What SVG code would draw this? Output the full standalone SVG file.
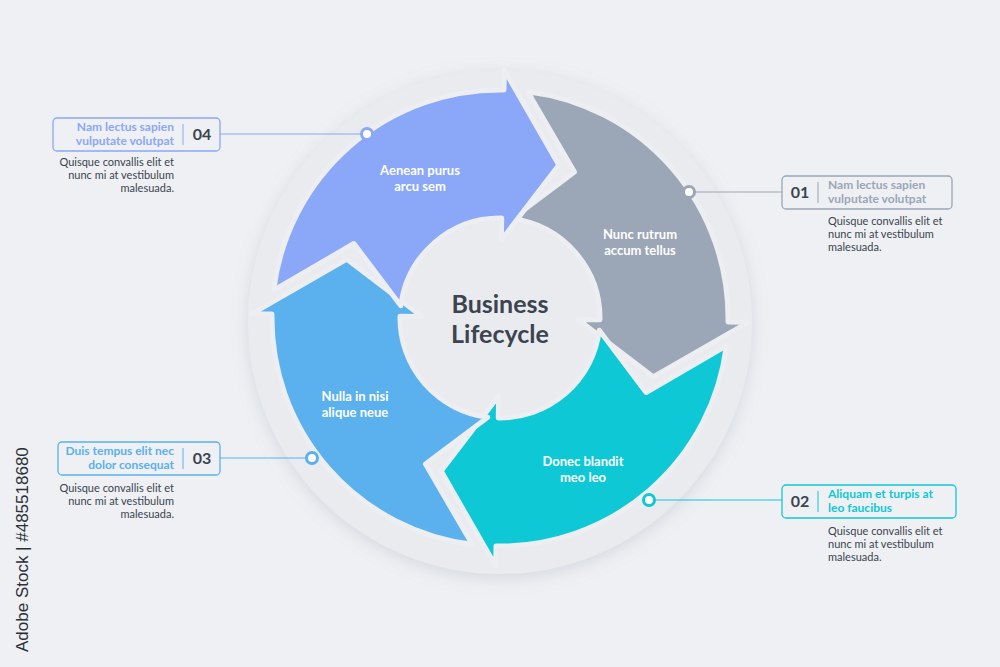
<svg xmlns="http://www.w3.org/2000/svg" width="1000" height="667" viewBox="0 0 1000 667">
<defs>
<filter id="sh" x="-20%" y="-20%" width="140%" height="140%"><feDropShadow dx="0" dy="4" stdDeviation="8" flood-color="#9aa3b0" flood-opacity="0.3"/></filter>
<style>
.seg{stroke:#eceef1;stroke-width:5;stroke-linejoin:round}
.sl{font-family:Lato,"Liberation Sans",sans-serif;font-weight:700;font-size:13px;fill:#fff;text-anchor:middle}
.bx{fill:none;stroke-width:1.3}
.num{font-family:Lato,"Liberation Sans",sans-serif;font-weight:700;font-size:16px;fill:#3b4450;text-anchor:middle}
.tt{font-family:Lato,"Liberation Sans",sans-serif;font-weight:700;font-size:12px}
.ds{font-family:Lato,"Liberation Sans",sans-serif;font-size:11px;fill:#3b4450}
.ln{stroke-width:1.2;fill:none}
.dot{fill:#fff;stroke-width:3}
</style>
</defs>
<rect width="1000" height="667" fill="#eef0f3"/>
<circle cx="500" cy="322" r="252" fill="#e9ebee" filter="url(#sh)"/>
<g id="seg-01"><path class="seg" fill="#9ba6b6" d="M527.8,91.7 A228,228 0 0 1 728,322 L748,322.3 L653.1,376.8 L578,319.4 L600,319.7 A100,100 0 0 0 512.2,218.8 L574.5,171.9 Z"/><text class="sl" x="640" y="239">Nunc rutrum</text><text class="sl" x="640" y="255">accum tellus</text></g>
<g id="seg-02"><path class="seg" fill="#0ec8d5" d="M726.3,345.8 A228,228 0 0 1 496,546 L495.7,566 L441.2,471.1 L498.6,396 L498.3,418 A100,100 0 0 0 599.3,330.2 L646.1,392.5 Z"/><text class="sl" x="583" y="466">Donec blandit</text><text class="sl" x="583" y="482">meo leo</text></g>
<g id="seg-03"><path class="seg" fill="#5ab1ee" d="M472.2,544.3 A228,228 0 0 1 272,314 L252,313.7 L346.9,259.2 L422,316.6 L400,316.3 A100,100 0 0 0 487.8,417.3 L425.5,464.1 Z"/><text class="sl" x="355" y="401">Nulla in nisi</text><text class="sl" x="355" y="417">alique neue</text></g>
<g id="seg-04"><path class="seg" fill="#8aa7f8" d="M273.7,290.2 A228,228 0 0 1 504,90 L504.3,70 L558.8,164.9 L501.4,240 L501.7,218 A100,100 0 0 0 400.8,305.8 L353.9,243.5 Z"/><text class="sl" x="420" y="175">Aenean purus</text><text class="sl" x="420" y="191">arcu sem</text></g>
<g id="center"><text x="500" y="313" text-anchor="middle" font-family="Lato,'Liberation Sans',sans-serif" font-weight="700" font-size="25" fill="#3b4450">Business</text><text x="500" y="343" text-anchor="middle" font-family="Lato,'Liberation Sans',sans-serif" font-weight="700" font-size="25" fill="#3b4450">Lifecycle</text></g>
<g id="connectors">
<line class="ln" stroke="#8aa7f8" x1="220" y1="134" x2="367" y2="134"/>
<line class="ln" stroke="#9ba6b6" x1="689" y1="192" x2="782" y2="192"/>
<line class="ln" stroke="#0ec8d5" x1="649" y1="500" x2="782" y2="500"/>
<line class="ln" stroke="#5ab1ee" x1="220" y1="458" x2="312" y2="458"/>
<circle class="dot" stroke="#8aa7f8" cx="367" cy="134" r="5.5"/>
<circle class="dot" stroke="#9ba6b6" cx="689" cy="192" r="5.5"/>
<circle class="dot" stroke="#0ec8d5" cx="649" cy="500" r="5.5"/>
<circle class="dot" stroke="#5ab1ee" cx="312" cy="458" r="5.5"/>
</g>
<g id="label-04"><rect class="bx" stroke="#8aa7f8" x="53" y="118" width="167" height="33" rx="4"/><line stroke="#8aa7f8" x1="183" y1="124" x2="183" y2="145"/><text class="num" x="202" y="140">04</text><text class="tt" fill="#8aa7f8" text-anchor="end" x="174" y="131">Nam lectus sapien</text><text class="tt" fill="#8aa7f8" text-anchor="end" x="174" y="145">vulputate volutpat</text><text class="ds" text-anchor="end" x="174" y="166">Quisque convallis elit et</text><text class="ds" text-anchor="end" x="174" y="179">nunc mi at vestibulum</text><text class="ds" text-anchor="end" x="174" y="192">malesuada.</text></g>
<g id="label-01"><rect class="bx" stroke="#9ba6b6" x="782" y="176" width="170" height="33" rx="4"/><line stroke="#9ba6b6" x1="818" y1="182" x2="818" y2="203"/><text class="num" x="800" y="198">01</text><text class="tt" fill="#9ba6b6" x="828" y="189">Nam lectus sapien</text><text class="tt" fill="#9ba6b6" x="828" y="203">vulputate volutpat</text><text class="ds" x="828" y="225">Quisque convallis elit et</text><text class="ds" x="828" y="238">nunc mi at vestibulum</text><text class="ds" x="828" y="251">malesuada.</text></g>
<g id="label-02"><rect class="bx" stroke="#0ec8d5" x="782" y="485" width="174" height="33" rx="4"/><line stroke="#0ec8d5" x1="818" y1="491" x2="818" y2="512"/><text class="num" x="800" y="507">02</text><text class="tt" fill="#0ec8d5" x="828" y="498">Aliquam et turpis at</text><text class="tt" fill="#0ec8d5" x="828" y="512">leo faucibus</text><text class="ds" x="828" y="535">Quisque convallis elit et</text><text class="ds" x="828" y="548">nunc mi at vestibulum</text><text class="ds" x="828" y="561">malesuada.</text></g>
<g id="label-03"><rect class="bx" stroke="#5ab1ee" x="58" y="442" width="162" height="33" rx="4"/><line stroke="#5ab1ee" x1="183" y1="448" x2="183" y2="469"/><text class="num" x="202" y="464">03</text><text class="tt" fill="#5ab1ee" text-anchor="end" x="174" y="455">Duis tempus elit nec</text><text class="tt" fill="#5ab1ee" text-anchor="end" x="174" y="469">dolor consequat</text><text class="ds" text-anchor="end" x="174" y="492">Quisque convallis elit et</text><text class="ds" text-anchor="end" x="174" y="505">nunc mi at vestibulum</text><text class="ds" text-anchor="end" x="174" y="518">malesuada.</text></g>
<text transform="translate(28,652) rotate(-90)" font-family="'Liberation Sans',sans-serif" font-size="17" fill="#2b2f36">Adobe Stock | #485518680</text>
</svg>
